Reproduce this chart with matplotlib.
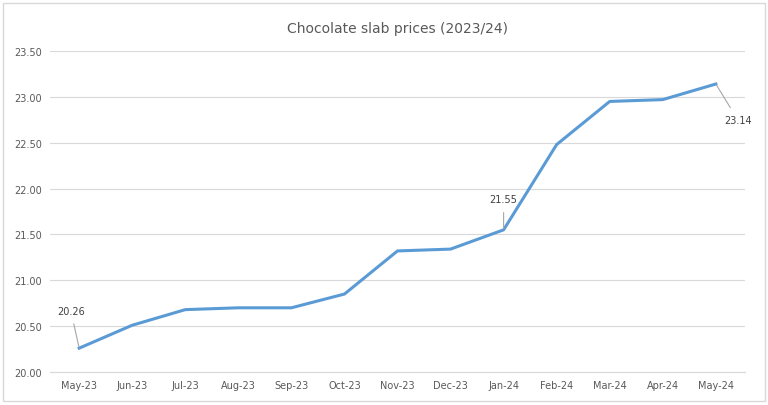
import matplotlib
matplotlib.use("Agg")
import matplotlib.pyplot as plt
from matplotlib.patches import Rectangle

months = ["May-23","Jun-23","Jul-23","Aug-23","Sep-23","Oct-23","Nov-23","Dec-23","Jan-24","Feb-24","Mar-24","Apr-24","May-24"]
prices = [20.26,20.51,20.68,20.70,20.70,20.85,21.32,21.34,21.55,22.48,22.95,22.97,23.14]
yticks = [20.0,20.5,21.0,21.5,22.0,22.5,23.0,23.5]

fig = plt.figure(figsize=(7.68,4.06), dpi=100)
fig.patches.append(Rectangle((0.004,0.01),0.992,0.98,transform=fig.transFigure,fill=False,edgecolor="#d9d9d9",lw=1))
ax = fig.add_axes([50/768, 1-373/406, 695/768, 321/406])
x = list(range(len(months)))
ax.plot(x, prices, color="#5b9bd5", lw=2.2, solid_joinstyle="round")
ax.set_xlim(-0.55, 12.55)
ax.set_ylim(20, 23.5)
ax.set_yticks(yticks)
ax.set_yticklabels([f"{v:.2f}" for v in yticks])
ax.set_xticks(x)
ax.set_xticklabels(months)
ax.tick_params(labelsize=7, colors="#595959", length=0, pad=6)
ax.grid(axis="y", color="#d9d9d9", lw=0.8)
ax.set_axisbelow(True)
for s in ["top","right","left"]:
    ax.spines[s].set_visible(False)
ax.spines["bottom"].set_color("#d9d9d9")
ax.set_title("Chocolate slab prices (2023/24)", fontsize=10, color="#595959", pad=14)

def ann(i, dx, dy):
    ax.annotate(f"{prices[i]:.2f}", xy=(x[i], prices[i]), xytext=(dx, dy), textcoords="offset points",
                fontsize=7, color="#404040", ha="center", va="center",
                arrowprops=dict(arrowstyle="-", color="#a6a6a6", lw=0.8, shrinkA=4, shrinkB=1))
ann(0, -6, 27)
ann(8, 0, 22)
ann(12, 16, -26)

fig.savefig("out.png", dpi=100)
